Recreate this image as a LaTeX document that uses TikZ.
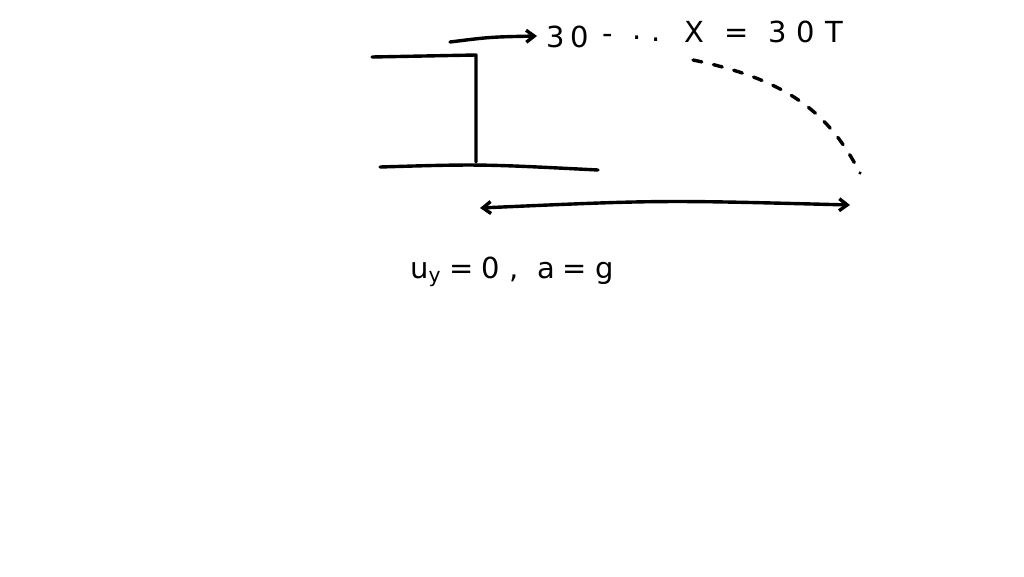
\documentclass[tikz,border=0pt]{standalone}
\usepackage{fontspec}
\setmainfont{DejaVu Sans}
\usetikzlibrary{arrows.meta}
\begin{document}
\begin{tikzpicture}[x=1pt,y=-1pt,
  stroke/.style={line width=3.4pt,line cap=round,line join=round},
  arr/.style={stroke,-{Straight Barb[length=8pt,width=12pt]}},
  lbl/.style={inner sep=0pt,font=\fontsize{29}{32}\selectfont},
  dashtraj/.style={stroke,dash pattern=on 9pt off 12pt}]
\useasboundingbox[fill=white] (0,0) rectangle (1024,576);
% cliff
\coordinate (tl) at (372,57);
\coordinate (tr) at (476,55);
\coordinate (bt) at (476,162);
\coordinate (gl) at (380,167);
\coordinate (gr) at (598,170);
\draw[stroke] (tl) -- (tr) -- (bt);
\draw[stroke] (gl) .. controls (480,164) .. (gr);
% top arrow
\coordinate (a0) at (450,42);
\coordinate (a1) at (537,36);
\draw[arr] (a0) .. controls (490,37) .. (a1);
\node[lbl,anchor=west] (thirty) at (546,37) {3\hspace{6pt}0};
\node[lbl,anchor=west] (dash1) at (602,39) {-};
\node[lbl] (dot1) at (637,38) {.};
\node[lbl] (dot2) at (656,40) {.};
\node[lbl,anchor=west] (xeq) at (684,32) {X\hspace{20pt}=\hspace{20pt}3\hspace{10pt}0\hspace{10pt}T};
% trajectory
\coordinate (p0) at (693,60);
\coordinate (p1) at (860,173);
\draw[dashtraj] (p0) .. controls (790,80) and (830,115) .. (p1);
% range arrow
\coordinate (r0) at (480,208);
\coordinate (r1) at (850,205);
\draw[stroke,{Straight Barb[length=8pt,width=12pt]}-{Straight Barb[length=8pt,width=12pt]}] (r0) .. controls (660,200) .. (r1);
% conditions
\node[lbl,anchor=west] (cond) at (410,272) {u\textsubscript{y}\hspace{8pt}=\hspace{8pt}0\hspace{10pt},\hspace{18pt}a\hspace{8pt}=\hspace{8pt}g};
\end{tikzpicture}
\end{document}
